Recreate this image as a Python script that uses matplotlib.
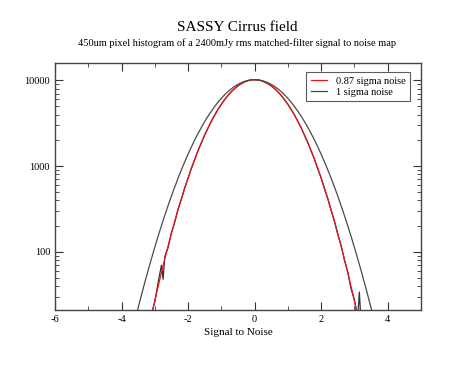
import matplotlib
matplotlib.use("Agg")
import matplotlib.pyplot as plt
import matplotlib.ticker as plticker
import numpy as np

plt.rcParams['font.family'] = ['Liberation Serif', 'DejaVu Serif']
plt.rcParams['axes.unicode_minus'] = False

# pixel histogram
hist_x = [-3.1, -3.0, -2.9, -2.8, -2.75, -2.7, -2.6, -2.5, -2.4, -2.3, -2.2, -2.1,
          -2.0, -1.9, -1.8, -1.7, -1.6, -1.5, -1.4, -1.3, -1.2, -1.1, -1.0, -0.9,
          -0.8, -0.7, -0.6, -0.5, -0.4, -0.3, -0.2, -0.1, 0.0, 0.1, 0.2, 0.3,
          0.4, 0.5, 0.6, 0.7, 0.8, 0.9, 1.0, 1.1, 1.2, 1.3, 1.4, 1.5,
          1.6, 1.7, 1.8, 1.9, 2.0, 2.1, 2.2, 2.3, 2.4, 2.5, 2.6, 2.7,
          2.8, 2.9, 3.0, 3.1, 3.15, 3.2]
hist_y = [19, 26, 44, 70, 48, 88, 112, 168, 222, 318, 410, 562,
          720, 945, 1190, 1520, 1870, 2320, 2780, 3350, 3930, 4600, 5250, 5990,
          6670, 7400, 8020, 8660, 9160, 9630, 9920, 10150, 10210, 10120, 9950, 9590,
          9190, 8630, 8060, 7360, 6700, 5950, 5290, 4570, 3960, 3320, 2810, 2290,
          1890, 1500, 1210, 930, 735, 548, 420, 305, 230, 160, 120, 80,
          59, 37, 28, 17, 34, 15]

# gaussian noise models
peak = 10200
sigma_fit = 0.87
sigma_one = 1.0

xs = np.linspace(-4, 4, 400)
fit_curve = peak * np.exp(-xs**2 / (2 * sigma_fit**2))
one_curve = peak * np.exp(-xs**2 / (2 * sigma_one**2))

fig = plt.figure(figsize=(4.74, 3.66), dpi=100)
ax = fig.add_axes([0.116, 0.153, 0.772, 0.675])

ax.plot(hist_x, hist_y, color='#333333', lw=0.9)
ax.plot(xs, fit_curve, color='#e8141c', lw=0.9, label='0.87 sigma noise')
ax.plot(xs, one_curve, color='#4a4a4a', lw=0.9, label='1 sigma noise')

ax.set_yscale('log')
ax.set_xlim(-6, 5)
ax.set_ylim(21, 16000)

ax.xaxis.set_major_locator(plticker.MultipleLocator(2))
ax.xaxis.set_minor_locator(plticker.MultipleLocator(1))
ax.yaxis.set_major_locator(plticker.FixedLocator([100, 1000, 10000]))
ax.yaxis.set_major_formatter(plticker.FuncFormatter(lambda v, p: '%d' % v))
ax.yaxis.set_minor_formatter(plticker.NullFormatter())
ax.tick_params(which='both', direction='in', top=True, right=True,
               labelsize=7.5, colors='#333333', labelcolor='black')
ax.tick_params(which='major', length=6, width=0.8)
ax.tick_params(which='minor', length=3, width=0.6)
for sp in ax.spines.values():
    sp.set_color('#444444')
    sp.set_linewidth(1.0)

ax.set_xlabel('Signal to Noise', fontsize=8, labelpad=3)

leg = ax.legend(loc='upper right', bbox_to_anchor=(0.985, 0.985), fontsize=7.5,
                frameon=True, fancybox=False, handlelength=1.6,
                borderpad=0.45, labelspacing=0.15)
leg.get_frame().set_edgecolor('#333333')
leg.get_frame().set_linewidth(0.8)

fig.text(0.5, 0.925, 'SASSY Cirrus field', ha='center', va='center', fontsize=11)
fig.text(0.5, 0.882, '450um pixel histogram of a 2400mJy rms matched-filter signal to noise map',
         ha='center', va='center', fontsize=7.5)

fig.savefig('out.png', dpi=100)
